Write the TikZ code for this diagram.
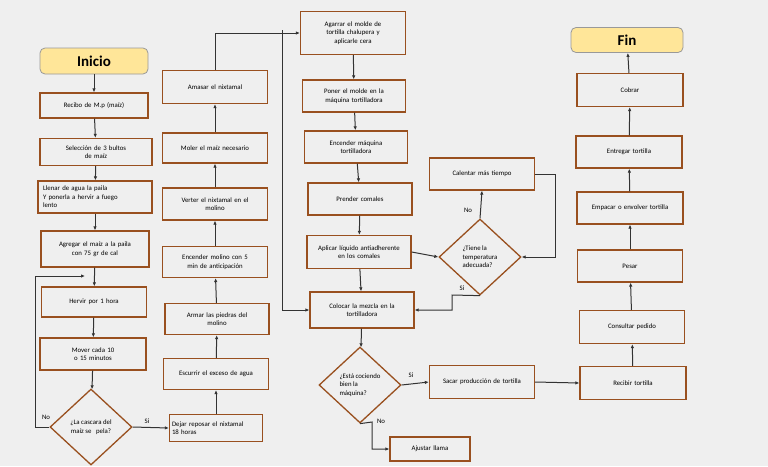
\documentclass[tikz,border=0pt]{standalone}
\usepackage{fontspec}
\setmainfont{Carlito}
\usetikzlibrary{shapes.geometric,arrows.meta}
\definecolor{brn}{HTML}{99501F}
\definecolor{bg}{HTML}{EFEFEF}
\definecolor{yel}{HTML}{FFE699}
\begin{document}
\begin{tikzpicture}[x=1pt,y=-1pt,
 box/.style={draw=brn,line width=1.3pt,fill=bg,align=center,font=\fontsize{6.8}{8.5}\selectfont,inner sep=1pt},
 dia/.style={diamond,draw=brn,line width=1.3pt,fill=bg,align=center,font=\fontsize{6.8}{8.5}\selectfont,inner sep=0pt,minimum width=82pt,minimum height=76pt,aspect=1.1},
 term/.style={draw=gray!80,line width=0.8pt,fill=yel,rounded corners=5pt,font=\fontsize{15}{18}\selectfont\bfseries},
 ar/.style={-{Latex[length=4pt,width=3.5pt]},line width=1pt,draw=black!80},
 lb/.style={font=\fontsize{6.8}{8}\selectfont}]
\fill[bg] (0,0) rectangle (768,466);
\useasboundingbox (0,0) rectangle (768,466);
\newcommand\bx[6]{\node[box,minimum width=#3pt,minimum height=#4pt,text width=#3pt-8pt] (#1) at (#2) {#5};}
% column 1
\node[term,minimum width=108pt,minimum height=26pt] (ini) at (94,61) {Inicio};
\bx{a1}{94,105.5}{108}{25}{Recibo de M.p (maíz)}{}
\bx{a2}{96,152}{112}{27}{Selección de 3 bultos\\ de maíz}{}
\node[box,minimum width=114pt,minimum height=32pt,text width=104pt,align=left] (a3) at (95,197) {Llenar de agua la paila\\Y ponerla a hervir a fuego\\lento};
\bx{a4}{95,249}{108}{36}{Agregar el maíz a la paila\\con 75 gr de cal}{}
\bx{a5}{94,302}{105}{30}{Hervir por 1 hora\\[8pt]}{}
\bx{a6}{93,354}{106}{32}{Mover cada 10\\o 15 minutos}{}
\node[dia] (d1) at (91,427) {¿La cascara del\\maíz se \ \ pela?};
% column 2
\node[box,minimum width=93pt,minimum height=27pt,text width=88pt,align=left] (b1) at (216,428) {Dejar reposar el nixtamal\\18 horas};
\bx{b2}{216,374}{105}{31}{Escurrir el exceso de agua\\[6pt]}{}
\bx{b3}{217,319}{104}{31}{Armar las piedras del\\molino}{}
\bx{b4}{215,262}{105}{31}{Encender molino con 5\\min de anticipación}{}
\bx{b5}{215,204}{105}{32}{Verter el nixtamal en el\\molino}{}
\bx{b6}{215,148}{105}{30}{Moler el maíz necesario}{}
\bx{b7}{215,87}{105}{33}{Amasar el nixtamal\\[6pt]}{}
% column 3
\bx{c1}{353,33}{105}{43}{Agarrar el molde de\\tortilla chalupera y\\aplicarle cera}{}
\bx{c2}{354,96}{103}{32}{Poner el molde en la\\máquina tortilladora}{}
\bx{c3}{356,147}{103}{32}{Encender máquina\\tortilladora}{}
\bx{c4}{360,199}{104}{32}{Prender comales}{}
\bx{c5}{359,252}{104}{33}{Aplicar líquido antiadherente\\en los comales}{}
\bx{c6}{362,310}{104}{36}{Colocar la mezcla en la\\tortilladora}{}
\node[dia,align=left] (d3) at (360,385) {¿Está cociendo\\bien la\\máquina?};
\bx{c7}{482,382}{105}{33}{Sacar producción de tortilla\\[6pt]}{}
\bx{c8}{430,449}{80}{24}{Ajustar llama}{}
\node[dia,align=left] (d2) at (480,257) {¿Tiene la\\temperatura\\adecuada?};
\bx{c9}{482,174}{105}{32}{Calentar más tiempo\\[6pt]}{}
% column 4
\bx{e1}{633,383}{106}{33}{Recibir tortilla}{}
\bx{e2}{632,327}{105}{33}{Consultar pedido}{}
\bx{e3}{630,266}{105}{32}{Pesar}{}
\bx{e4}{630,208}{106}{32}{Empacar o envolver tortilla}{}
\bx{e5}{629,152}{106}{32}{Entregar tortilla}{}
\bx{e6}{630,90}{106}{33}{Cobrar}{}
\node[term,minimum width=112pt,minimum height=25pt] (fin) at (627,40) {Fin};
% connectors
\foreach \u/\v in {ini/a1,a1/a2,a2/a3,a3/a4,a4/a5,a5/a6,a6/d1,b1/b2,b2/b3,b3/b4,b4/b5,b5/b6,b6/b7,c1/c2,c2/c3,c3/c4,c4/c5,c5/c6,c6/d3,e1/e2,e2/e3,e3/e4,e4/e5,e5/e6,e6/fin}
  \draw[ar] (\u) -- (\v);
\coordinate (lp) at (35,276);
\draw[ar] (d1.west) -- (35,427) -- (lp) -- (85,276);
\node[lb] at (46,417) {No};
\draw[ar] (d1.east) -- (b1.west);
\node[lb] at (147,421) {Si};
\draw[ar] (b7.north) |- (c1.west);
\draw[ar] (282,30) |- (c6.west);
\draw[ar] (c5.east) -- (d2.west);
\draw[ar] (d2.north) -- (c9.south);
\node[lb] at (468,210) {No};
\draw[ar] (c9.east) -- (555,174) |- (d2.east);
\draw[ar] (d2.south) -- (452,295) |- (c6.east);
\node[lb] at (462,288) {Si};
\draw[ar] (d3.east) -- (c7.west);
\node[lb] at (411,375) {Si};
\draw[ar] (d3.south) -- (372,422) |- (c8.west);
\node[lb] at (381,421) {No};
\draw[ar] (c7.east) -- (e1.west);
\end{tikzpicture}
\end{document}
